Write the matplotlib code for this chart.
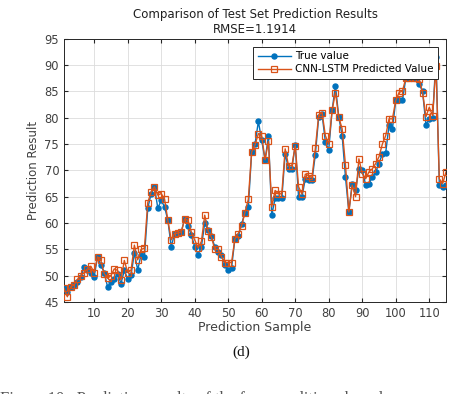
import numpy as np
import matplotlib
matplotlib.use("Agg")
import matplotlib.pyplot as plt

# values
true_vals = [47.6, 46.9, 47.9, 48.2, 48.8, 49.7, 51.6, 51.0, 50.6, 49.7,
             53.6, 52.0, 50.6, 47.9, 48.8, 49.4, 50.4, 48.5, 51.0, 49.4,
             50.1, 54.3, 51.1, 54.0, 53.6, 62.8, 65.6, 66.9, 62.8, 64.3,
             63.1, 60.5, 55.5, 58.0, 58.1, 58.3, 60.8, 59.5, 57.7, 55.5,
             54.0, 55.5, 60.0, 58.6, 57.5, 55.5, 54.5, 54.0, 52.0, 51.0,
             51.5, 57.0, 57.5, 59.8, 62.0, 63.0, 73.5, 75.0, 79.3, 75.7,
             72.0, 76.5, 61.5, 64.7, 64.7, 64.7, 73.2, 70.3, 70.3, 74.9,
             64.9, 64.9, 68.4, 68.1, 68.1, 73.0, 80.1, 80.7, 75.4, 73.9,
             81.4, 86.1, 80.1, 76.6, 68.7, 62.1, 67.5, 66.2, 70.3, 70.0,
             67.3, 67.5, 68.7, 69.7, 71.3, 73.2, 73.4, 78.6, 77.9, 83.3,
             83.3, 83.3, 87.5, 87.5, 87.5, 87.5, 86.4, 85.0, 78.7, 79.8,
             79.9, 91.5, 67.2, 66.9, 67.2]
pred_vals = [47.6, 46.0, 47.9, 48.2, 49.3, 50.0, 50.6, 51.3, 51.8, 50.6,
             53.6, 52.9, 50.4, 49.5, 50.0, 51.3, 51.0, 49.2, 52.9, 50.6,
             51.0, 55.8, 53.0, 55.0, 55.2, 63.9, 65.9, 66.9, 65.3, 65.6,
             64.6, 60.5, 56.8, 58.0, 58.1, 58.3, 60.8, 60.5, 58.3, 56.8,
             55.3, 56.5, 61.5, 58.5, 57.3, 55.0, 55.0, 53.6, 52.5, 52.5,
             52.5, 57.0, 58.0, 59.5, 62.0, 64.5, 73.5, 74.8, 77.0, 76.5,
             72.0, 75.5, 63.1, 66.2, 65.5, 65.6, 74.1, 70.9, 70.9, 74.7,
             66.9, 65.5, 69.3, 69.0, 68.6, 74.2, 80.5, 81.0, 76.6, 75.0,
             81.4, 84.8, 80.1, 77.9, 71.0, 62.1, 67.2, 65.0, 72.2, 69.4,
             68.4, 69.7, 70.3, 71.3, 72.6, 75.0, 76.6, 79.8, 79.8, 83.3,
             84.8, 85.1, 87.5, 87.5, 87.5, 87.5, 87.3, 84.8, 80.2, 82.0,
             80.4, 89.9, 68.4, 67.5, 69.7]
samples = np.arange(1, len(true_vals) + 1)
xticks = list(range(10, 111, 10))
yticks = list(range(45, 96, 5))
rmse = 1.1914

blue = "#0072BD"
orange = "#D95319"
dark = "#262626"

fig = plt.figure(figsize=(4.74, 3.94), dpi=100)
ax = fig.add_axes([0.135, 0.2335, 0.806, 0.668])

ax.plot(samples, true_vals, "-o", color=blue, lw=1, ms=3.6,
        mfc=blue, mec=blue, label="True value", zorder=3)
ax.plot(samples, pred_vals, "-s", color=orange, lw=1, ms=4.6,
        mfc="none", mec=orange, mew=0.9, label="CNN-LSTM Predicted Value",
        zorder=4)

ax.set_xlim(1, 115)
ax.set_ylim(45, 95)
ax.set_xticks(xticks)
ax.set_yticks(yticks)
ax.grid(True, color="#dcdcdc", lw=0.6)
ax.set_axisbelow(True)
ax.tick_params(direction="in", top=True, right=True, length=3,
               labelsize=8.3, colors=dark, labelcolor="#404040")
for s in ax.spines.values():
    s.set_color(dark)
    s.set_linewidth(0.7)

ax.set_xlabel("Prediction Sample", fontsize=9, color="#404040", labelpad=1)
ax.set_ylabel("Prediction Result", fontsize=8.5, color="#404040", labelpad=3)
ax.set_title("Comparison of Test Set Prediction Results\nRMSE=%.4f" % rmse,
             fontsize=8.5, color="#202020", pad=4, linespacing=1.25)

leg = ax.legend(loc="upper right", fontsize=7.5, handlelength=3.2,
                frameon=True, fancybox=False, edgecolor=dark,
                borderaxespad=0.75, borderpad=0.45, labelspacing=0.3,
                handletextpad=0.4)
leg.get_frame().set_linewidth(0.7)
leg.get_frame().set_alpha(1)

fig.text(0.51, 0.105, "(d)", fontsize=11, family="Liberation Serif",
         ha="center", va="center", color="#111111")
# caption of the source figure, only its top edge is inside the picture
fig.text(0.0, 0.0065, "Figure 10.  Prediction results of the four conditions based",
         fontsize=12, family="Liberation Serif", ha="left", va="top",
         color="#555555")

fig.savefig("out.png", dpi=100)
